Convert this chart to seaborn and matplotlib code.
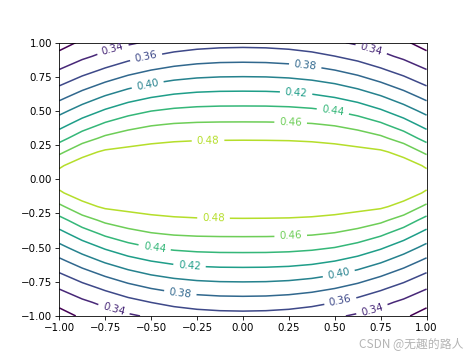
import numpy as np
import matplotlib
matplotlib.use('Agg')
import matplotlib.pyplot as plt
import seaborn as sns

# Valores (quadrante x>=0, y>=0; o grafico e simetrico)
x_pos = [0.0, 0.125, 0.25, 0.375, 0.5, 0.625, 0.75, 0.875, 1.0]
y_pos = [0.0, 0.1, 0.2, 0.3, 0.4, 0.5, 0.6, 0.7, 0.8, 0.9, 1.0]
# linhas = y_pos, colunas = x_pos
z_quad = [
    [0.4974, 0.4973, 0.4972, 0.4969, 0.4966, 0.4960, 0.4950, 0.4925, 0.4878],
    [0.4953, 0.4952, 0.4951, 0.4948, 0.4943, 0.4933, 0.4920, 0.4884, 0.4778],
    [0.4891, 0.4890, 0.4889, 0.4884, 0.4874, 0.4854, 0.4828, 0.4742, 0.4557],
    [0.4785, 0.4784, 0.4781, 0.4771, 0.4749, 0.4708, 0.4642, 0.4513, 0.4329],
    [0.4633, 0.4632, 0.4628, 0.4615, 0.4585, 0.4528, 0.4434, 0.4296, 0.4131],
    [0.4466, 0.4465, 0.4457, 0.4437, 0.4398, 0.4327, 0.4224, 0.4094, 0.3942],
    [0.4284, 0.4282, 0.4271, 0.4245, 0.4197, 0.4124, 0.4024, 0.3897, 0.3752],
    [0.4096, 0.4093, 0.4080, 0.4050, 0.3999, 0.3923, 0.3821, 0.3702, 0.3570],
    [0.3907, 0.3903, 0.3886, 0.3852, 0.3798, 0.3722, 0.3626, 0.3520, 0.3405],
    [0.3717, 0.3712, 0.3693, 0.3657, 0.3602, 0.3534, 0.3449, 0.3362, 0.3258],
    [0.3536, 0.3530, 0.3512, 0.3478, 0.3427, 0.3371, 0.3312, 0.3233, 0.3116],
]
levels = [0.32, 0.34, 0.36, 0.38, 0.40, 0.42, 0.44, 0.46, 0.48]

# posicao dos rotulos das curvas
label_pos = [(-0.71, 0.96), (0.70, 0.96), (-0.53, 0.91), (0.34, 0.84),
             (-0.52, 0.70), (0.29, 0.64), (0.49, 0.50), (0.26, 0.42),
             (-0.19, 0.29), (-0.16, -0.28), (0.26, -0.41), (-0.48, -0.49),
             (-0.29, -0.62), (0.52, -0.68), (-0.34, -0.82), (0.53, -0.89),
             (-0.70, -0.94), (0.70, -0.94)]

# espelhando o quadrante
xq = np.array(x_pos)
yq = np.array(y_pos)
zq = np.array(z_quad)
x = np.concatenate([-xq[:0:-1], xq])
y = np.concatenate([-yq[:0:-1], yq])
z_half = np.hstack([zq[:, :0:-1], zq])
Z = np.vstack([z_half[:0:-1], z_half])

cmap = sns.color_palette('viridis', as_cmap=True)

fig, ax = plt.subplots(figsize=(474 / 74, 355 / 74), dpi=74)
cs = ax.contour(x, y, Z, levels=levels, cmap=cmap, vmin=0.32, vmax=0.50)
ax.clabel(cs, inline=True, fontsize=10, manual=label_pos)

fig.text(0.977, 0.031, 'CSDN @无趣的路人', ha='right', va='center',
         fontsize=11.5, color='#b4b4b4',
         family=['Noto Sans CJK SC', 'DejaVu Sans'])

plt.savefig('out.png', dpi=74)
